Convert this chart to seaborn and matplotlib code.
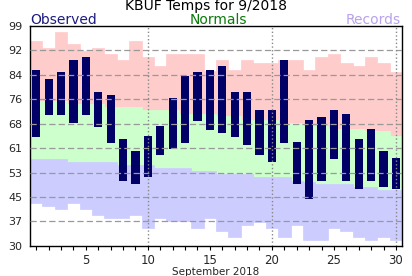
import numpy as np
import pandas as pd
import matplotlib
matplotlib.use('Agg')
import matplotlib.pyplot as plt
import seaborn as sns

# September 2018 at KBUF
days = list(range(1, 31))
obs_high = [85.2, 82.4, 84.4, 88.3, 89.3, 78.3, 77.4, 63.6, 59.8, 64.5,
            67.6, 76.3, 83.3, 84.4, 85.2, 86.5, 78.3, 78.3, 72.7, 72.7,
            88.3, 62.6, 69.5, 70.5, 72.7, 71.4, 63.6, 66.7, 59.8, 57.7]
obs_low = [64.3, 71.2, 71.2, 68.4, 71.2, 67.4, 62.4, 50.5, 49.5, 51.7,
           58.5, 60.5, 62.4, 69.3, 66.4, 65.5, 64.3, 61.5, 58.5, 56.4,
           62.4, 49.5, 44.8, 50.5, 57.4, 50.5, 47.7, 50.5, 48.6, 47.7]
norm_high = [75.6, 75.6, 75.6, 74.5, 74.5, 74.5, 73.7, 73.7, 73.7, 72.7,
             72.7, 72.7, 71.4, 71.4, 71.4, 70.6, 70.6, 69.5, 69.5, 69.5,
             68.5, 68.5, 67.6, 67.6, 66.7, 66.7, 66.7, 65.9, 65.9, 64.5]
norm_low = [57.3, 57.3, 57.3, 56.3, 56.3, 56.3, 56.3, 55.4, 55.4, 55.4,
            54.5, 54.5, 54.5, 53.5, 53.5, 52.7, 52.7, 52.7, 51.6, 51.6,
            51.6, 50.4, 50.0, 49.5, 49.5, 49.5, 48.5, 48.5, 47.6, 47.6]
rec_high = [94.3, 92.1, 97.1, 93.4, 91.2, 92.1, 90.3, 88.3, 94.3, 89.3,
            86.5, 90.3, 90.3, 90.3, 85.0, 88.3, 85.2, 88.3, 87.5, 87.5,
            88.3, 88.3, 85.2, 89.3, 90.3, 87.5, 86.5, 89.3, 87.5, 84.4]
rec_low = [43.6, 42.6, 41.7, 43.6, 41.7, 39.7, 38.9, 38.9, 39.7, 35.7,
           38.9, 37.8, 37.8, 35.7, 38.9, 34.7, 32.9, 36.6, 37.6, 35.7,
           32.9, 36.6, 31.9, 31.9, 35.5, 34.7, 32.8, 31.9, 32.8, 31.9]
ytick_labels = ['30', '37', '45', '53', '61', '68', '76', '84', '92', '99']
xtick_days = [5, 10, 15, 20, 25, 30]

df = pd.DataFrame({'day': days, 'obs_high': obs_high, 'obs_low': obs_low,
                   'norm_high': norm_high, 'norm_low': norm_low,
                   'rec_high': rec_high, 'rec_low': rec_low})

sns.set_style('white')
plt.rcParams['font.family'] = ['DejaVu Sans']

fig, ax = plt.subplots(figsize=(4.12, 2.76), dpi=100)
fig.subplots_adjust(left=0.073, right=0.976, top=0.906, bottom=0.109)


def band(lo, hi, color, width=1.0, z=1):
    sns.barplot(x=df['day'], y=df[hi] - df[lo], bottom=df[lo], native_scale=True,
                width=width, color=color, saturation=1, errorbar=None,
                linewidth=0.5 if width == 1.0 else 0, edgecolor=color,
                zorder=z, ax=ax)


band('norm_high', 'rec_high', '#ffcccc')
band('norm_low', 'norm_high', '#ccffcc')
band('rec_low', 'norm_low', '#ccccff')
band('obs_low', 'obs_high', '#000066', width=0.65, z=3)

yticks = np.linspace(30, 99, 10)
for v in yticks[1:-1]:
    ax.axhline(v, color='#999999', lw=0.9, dashes=(5, 2.5), zorder=5)
for d in [10, 20, 30]:
    ax.axvline(d, color='#888888', lw=1.0, ls=':', zorder=5)

ax.set_xlim(0.5, 30.5)
ax.set_ylim(30, 99)
ax.set_yticks(yticks)
ax.set_yticklabels(ytick_labels, fontsize=8)
ax.set_xticks(xtick_days)
ax.set_xticklabels([str(d) for d in xtick_days], fontsize=8.5)
ax.set_xticks(days, minor=True)
ax.tick_params(axis='x', which='both', length=3, width=0.8, color='black',
               direction='out', pad=2.5, bottom=True)
ax.tick_params(axis='y', length=0, pad=5.5)
ax.set_xlabel('September 2018', fontsize=7.5, labelpad=0)
ax.set_ylabel('')
for s in ax.spines.values():
    s.set_color('black')
    s.set_linewidth(1.0)

fig.text(0.5, 0.964, 'KBUF Temps for 9/2018', ha='center', va='baseline',
         fontsize=10, color='black')
fig.text(0.073, 0.912, 'Observed', ha='left', va='baseline', fontsize=10,
         color='#1c1c80')
fig.text(0.53, 0.912, 'Normals', ha='center', va='baseline', fontsize=10,
         color='#0a7a0a')
fig.text(0.972, 0.912, 'Records', ha='right', va='baseline', fontsize=10,
         color='#b9a2ee')

fig.savefig('out.png', dpi=100)
